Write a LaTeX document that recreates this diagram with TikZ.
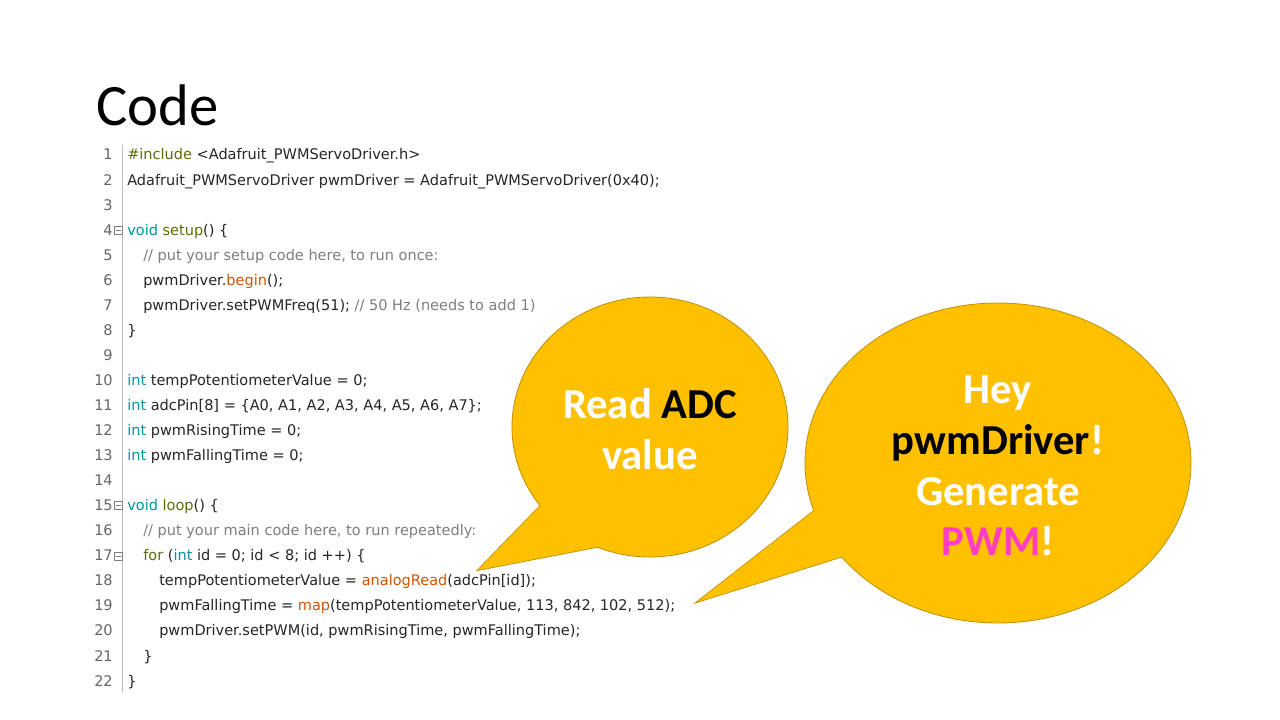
\documentclass[tikz,border=0pt]{standalone}
\usepackage{fontspec}
\usetikzlibrary{shapes.geometric}
\setmainfont{Carlito}
\newfontfamily\codef{DejaVu Sans}[FakeStretch=0.99]
\definecolor{kw}{HTML}{00979C}
\definecolor{fn}{HTML}{5E6D03}
\definecolor{org}{HTML}{D35400}
\definecolor{cm}{HTML}{7F7F7F}
\definecolor{bub}{HTML}{FFC000}
\definecolor{bubl}{HTML}{BF9000}
\definecolor{pk}{HTML}{FF3FBF}
\tikzset{code/.style={anchor=base west,inner sep=0pt,font=\codef\fontsize{11pt}{12pt}\selectfont,text=black!85},
 num/.style={anchor=base east,inner sep=0pt,font=\codef\fontsize{11pt}{12pt}\selectfont,text=black!60},
 btxt/.style={align=center,font=\bfseries\fontsize{32pt}{38pt}\selectfont,text=white}}
\newcommand{\ckw}[1]{\textcolor{kw}{#1}}
\newcommand{\cfn}[1]{\textcolor{fn}{#1}}
\newcommand{\cor}[1]{\textcolor{org}{#1}}
\newcommand{\ccm}[1]{\textcolor{cm}{#1}}
\begin{document}
\begin{tikzpicture}[x=0.75pt,y=-0.75pt]
\useasboundingbox[fill=white] (0,0) rectangle (1280,720);
\node[anchor=west,inner sep=0pt,font=\fontsize{44pt}{48pt}\selectfont] (title) at (96,105) {Code};
\draw[black!25] (122,145) -- (122,693);
\foreach \n in {1,...,22}{\node[num] (n\n) at (113,{155+5+(\n-1)*25.05}) {\n};}
\foreach \y in {4,15,17}{\node[inner sep=0pt,draw=black!50,minimum size=6pt,line width=0.4pt] (f\y) at (118,{155+(\y-1)*25.05}) {}; \draw[black!50,line width=0.4pt] (115.5,{155+(\y-1)*25.05}) -- (120.5,{155+(\y-1)*25.05});}
\newcommand{\cl}[3]{\node[code] (c#1) at (#2,{155+5+(#1-1)*25.05}) {#3};}
\cl{1}{127}{\cfn{\#include} <Adafruit\_PWMServoDriver.h>}
\cl{2}{127}{Adafruit\_PWMServoDriver pwmDriver = Adafruit\_PWMServoDriver(0x40);}
\cl{4}{127}{\ckw{void} \cfn{setup}() \{}
\cl{5}{143}{\ccm{// put your setup code here, to run once:}}
\cl{6}{143}{pwmDriver.\cor{begin}();}
\cl{7}{143}{pwmDriver.setPWMFreq(51); \ccm{// 50 Hz (needs to add 1)}}
\cl{8}{127}{\}}
\cl{10}{127}{\ckw{int} tempPotentiometerValue = 0;}
\cl{11}{127}{\ckw{int} adcPin[8] = \{A0, A1, A2, A3, A4, A5, A6, A7\};}
\cl{12}{127}{\ckw{int} pwmRisingTime = 0;}
\cl{13}{127}{\ckw{int} pwmFallingTime = 0;}
\cl{15}{127}{\ckw{void} \cfn{loop}() \{}
\cl{16}{143}{\ccm{// put your main code here, to run repeatedly:}}
\cl{17}{143}{\cfn{for} (\ckw{int} id = 0; id < 8; id ++) \{}
\cl{18}{159}{tempPotentiometerValue = \cor{analogRead}(adcPin[id]);}
\cl{19}{159}{pwmFallingTime = \cor{map}(tempPotentiometerValue, 113, 842, 102, 512);}
\cl{20}{159}{pwmDriver.setPWM(id, pwmRisingTime, pwmFallingTime);}
\cl{21}{143}{\}}
\cl{22}{127}{\}}
% bubble 1
\coordinate (t1) at (478,570);
\draw[bubl,fill=bub,line width=1.2pt] (543,503) -- (t1) -- (602,546) -- cycle;
\node[ellipse,draw=bubl,fill=bub,line width=0.6pt,minimum width=207pt,minimum height=195pt,inner sep=0pt] (b1) at (650,427) {};
\fill[bub] (543,503) -- (t1) -- (602,546) -- cycle;
\node[btxt] (b1t) at (650,429) {Read \textcolor{black}{ADC}\\value};
% bubble 2
\coordinate (t2) at (697,602);
\draw[bubl,fill=bub,line width=1.2pt] (815,510) -- (t2) -- (847,555) -- cycle;
\node[ellipse,draw=bubl,fill=bub,line width=0.6pt,minimum width=289.5pt,minimum height=240pt,inner sep=0pt] (b2) at (998,463) {};
\fill[bub] (815,510) -- (t2) -- (847,555) -- cycle;
\node[btxt] (b2t) at (998,466) {Hey\\\textcolor{black}{pwmDriver}!\\Generate\\\textcolor{pk}{PWM}!};
\end{tikzpicture}
\end{document}
